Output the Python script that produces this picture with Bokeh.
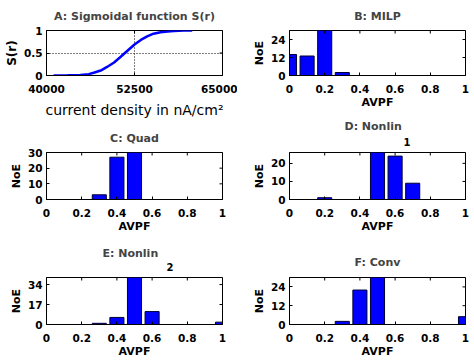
import math
from bokeh.plotting import figure
from bokeh.layouts import gridplot
from bokeh.models import FixedTicker, Range1d, Title
from bokeh.embed import file_html
from bokeh.resources import INLINE

# ---- data ----
sig_x = [41000, 43000, 44800, 46000, 46700, 47700, 48600, 49600, 50500, 51500,
         52500, 53400, 54300, 55200, 56200, 57200, 58100, 59500, 60700]
sig_y = [0.0, 0.003, 0.01, 0.03, 0.06, 0.11, 0.19, 0.29, 0.41, 0.55,
         0.69, 0.79, 0.87, 0.93, 0.96, 0.98, 0.99, 1.0, 1.0]
sig_xticks = [40000, 52500, 65000]
sig_yticks = [0, 0.5, 1]

avpf_bins = [0.0, 0.1, 0.2, 0.3, 0.4, 0.5, 0.6, 0.7, 0.8, 0.9, 1.0]
avpf_ticks = [0, 0.2, 0.4, 0.6, 0.8, 1]
milp = [14, 13, 30, 2, 0, 0, 0, 0, 0, 0, 0]
quad = [0, 0, 0, 3, 27, 30, 0, 0, 0, 0, 0]
nonlin1 = [0, 0, 1, 0, 0, 26, 24, 9, 0, 0, 0]
nonlin2 = [0, 0, 0, 1, 6, 40, 11, 0, 0, 0, 2]
conv = [0, 0, 0, 2, 22, 30, 0, 0, 0, 0, 5]

FONT = "DejaVu Sans"
ROW_H = [121, 119, 123]
ROW_TOP = [28, 31, 37]
FRAME_H = 47
COL_W = [237, 237]
COL_LEFT = [46, 52]
FRAME_W = 176


def borders(col, row):
    left = COL_LEFT[col]
    right = COL_W[col] - left - FRAME_W
    top = ROW_TOP[row]
    bottom = ROW_H[row] - top - FRAME_H
    return dict(width=COL_W[col], height=ROW_H[row],
                min_border_left=left, min_border_right=right,
                min_border_top=top, min_border_bottom=bottom)


def box_ticks(p, xticks, yticks, xmax, ymax):
    # inward tick marks on the top and right edges (half of each mark is clipped)
    p.scatter(x=xticks, y=[ymax] * len(xticks), marker="dash", size=6,
              angle=math.pi / 2, line_color="black", line_width=1)
    p.scatter(x=[xmax] * len(yticks), y=yticks, marker="dash", size=6,
              line_color="black", line_width=1)


def style(p, title, standoff=15):
    if title:
        p.title.text = title
        p.title.text_font = FONT
        p.title.text_font_size = "11px"
        p.title.text_font_style = "bold"
        p.title.align = "center"
        p.title.standoff = standoff
    p.outline_line_color = "black"
    p.outline_line_width = 1
    p.outline_line_alpha = 1
    for ax in (p.xaxis[0], p.yaxis[0]):
        ax.major_tick_in = 3
        ax.major_tick_out = 0
        ax.minor_tick_line_color = None
        ax.axis_line_color = "black"
        ax.major_label_text_font = FONT
        ax.major_label_text_font_size = "10.5px"
        ax.major_label_text_font_style = "bold"
        ax.major_label_text_color = "black"
        ax.axis_label_text_font = FONT
        ax.axis_label_text_font_size = "11px"
        ax.axis_label_text_font_style = "bold"
        ax.axis_label_text_color = "black"
    p.xaxis[0].major_label_standoff = 9
    p.yaxis[0].major_label_standoff = 4
    p.xaxis[0].axis_label_standoff = 0
    p.yaxis[0].axis_label_standoff = 2


def sub_title(p, main, sub, main_offset, sub_offset, sub_standoff, main_standoff):
    t_sub = Title(text=sub, text_font=FONT, text_font_size="10px",
                  text_font_style="bold", align="left", offset=sub_offset,
                  standoff=sub_standoff, text_color="black")
    p.add_layout(t_sub, "above")
    p.title.text = main
    p.title.text_font = FONT
    p.title.text_font_size = "11px"
    p.title.text_font_style = "bold"
    p.title.align = "left"
    p.title.offset = main_offset
    p.title.standoff = main_standoff


def make_hist(title, counts, yticks, ymax, col, row, standoff=15):
    p = figure(output_backend="svg", toolbar_location=None,
               x_range=Range1d(0, 1), y_range=Range1d(0, ymax), **borders(col, row))
    p.vbar(x=avpf_bins, top=counts, width=0.08, bottom=0,
           fill_color="#0000ff", line_color="#000033", line_width=1)
    style(p, title, standoff)
    p.xgrid.visible = False
    p.ygrid.visible = False
    p.xaxis[0].ticker = FixedTicker(ticks=avpf_ticks)
    p.xaxis[0].major_label_overrides = {0: "0", 1: "1"}
    p.yaxis[0].ticker = FixedTicker(ticks=yticks)
    p.xaxis[0].axis_label = "AVPF"
    p.yaxis[0].axis_label = "NoE"
    box_ticks(p, avpf_ticks, yticks, 1, ymax)
    return p


# Panel A
pa = figure(output_backend="svg", toolbar_location=None,
            x_range=Range1d(40000, 65000), y_range=Range1d(0, 1), **borders(0, 0))
pa.line(sig_x, sig_y, line_color="#0000ff", line_width=2.5)
style(pa, "A: Sigmoidal function S(r)")
pa.xaxis[0].ticker = FixedTicker(ticks=sig_xticks)
pa.yaxis[0].ticker = FixedTicker(ticks=sig_yticks)
pa.yaxis[0].major_label_overrides = {0: "0", 1: "1"}
for g in (pa.xgrid[0], pa.ygrid[0]):
    g.grid_line_color = "black"
    g.grid_line_dash = "1 2"
    g.grid_line_width = 1
pa.xgrid[0].ticker = FixedTicker(ticks=[52500])
pa.ygrid[0].ticker = FixedTicker(ticks=[0.5])
pa.xaxis[0].axis_label = "current density in nA/cm\u00b2"
pa.xaxis[0].axis_label_text_font_style = "normal"
pa.xaxis[0].axis_label_text_font_size = "14px"
pa.xaxis[0].axis_label_standoff = 6
pa.yaxis[0].axis_label = "S(r)"
pa.yaxis[0].axis_label_text_font_size = "12px"
box_ticks(pa, sig_xticks, sig_yticks, 65000, 1)

pb = make_hist("B: MILP", milp, [0, 12, 24], 30, 1, 0)
pc = make_hist("C: Quad", quad, [0, 10, 20, 30], 30, 0, 1)
pd_ = make_hist(None, nonlin1, [0, 10, 20], 26, 1, 1)
sub_title(pd_, "D: Nonlin", "1", 55, 114, 13, -7)
pe = make_hist(None, nonlin2, [0, 17, 34], 40, 0, 2)
sub_title(pe, "E: Nonlin", "2", 56, 120, 13, -10)
pf = make_hist("F: Conv", conv, [0, 12, 24], 30, 1, 2, standoff=17)

grid = gridplot([[pa, pb], [pc, pd_], [pe, pf]], toolbar_location=None)

open("out.html", "w").write(file_html(grid, INLINE))
